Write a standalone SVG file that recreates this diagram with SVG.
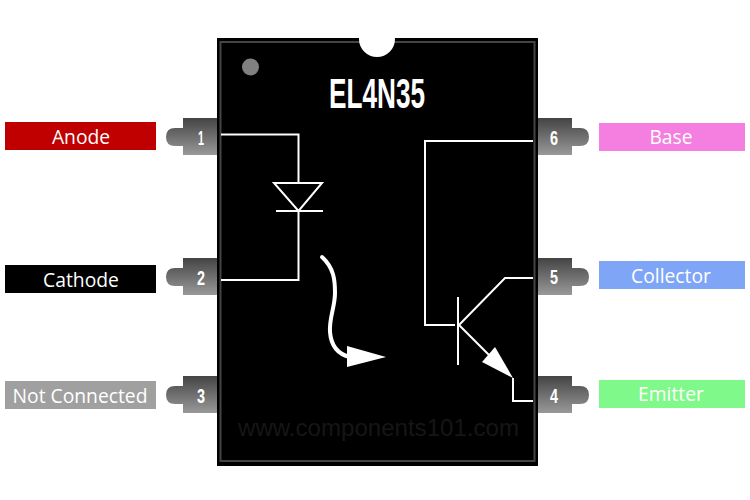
<svg xmlns="http://www.w3.org/2000/svg" width="750" height="500" viewBox="0 0 750 500">
<style>
.lbl{font-family:"Open Sans","Noto Sans",sans-serif;font-size:19.300px;fill:#fff;text-anchor:middle}
.num{font-family:"Liberation Sans",sans-serif;font-weight:700;font-size:20px;fill:#fff;text-anchor:middle}
.w{fill:none;stroke:#fff;stroke-width:2}
</style>
<defs>
<linearGradient id="pg" x1="0" y1="0" x2="0" y2="1"><stop offset="0" stop-color="#444"/><stop offset="1" stop-color="#999"/></linearGradient>
<path id="pl" d="M217 0V37H183V28H175Q166 28 166 19Q166 10 175 10H183V0Z"/>
<path id="pr" d="M538 0V37H572V28H580Q589 28 589 19Q589 10 580 10H572V0Z"/>
</defs>
<g id="pin1"><use href="#pl" y="118" fill="url(#pg)"/><text class="num" x="201" y="145" textLength="6" lengthAdjust="spacingAndGlyphs">1</text></g>
<g id="pin2"><use href="#pl" y="258" fill="url(#pg)"/><text class="num" x="201" y="285" textLength="8" lengthAdjust="spacingAndGlyphs">2</text></g>
<g id="pin3"><use href="#pl" y="376" fill="url(#pg)"/><text class="num" x="201" y="403" textLength="8" lengthAdjust="spacingAndGlyphs">3</text></g>
<g id="pin6"><use href="#pr" y="118" fill="url(#pg)"/><text class="num" x="554" y="145" textLength="8" lengthAdjust="spacingAndGlyphs">6</text></g>
<g id="pin5"><use href="#pr" y="258" fill="url(#pg)"/><text class="num" x="554" y="284" textLength="8" lengthAdjust="spacingAndGlyphs">5</text></g>
<g id="pin4"><use href="#pr" y="376" fill="url(#pg)"/><text class="num" x="554" y="403" textLength="8" lengthAdjust="spacingAndGlyphs">4</text></g>
<g id="chip">
<rect x="217" y="38" width="321" height="428" fill="#000"/>
<rect x="220.500" y="42" width="314" height="419" fill="none" stroke="#444" stroke-width="2"/>
<circle cx="377" cy="39" r="18" fill="#fff"/>
<rect x="355" y="30" width="44" height="8" fill="#fff"/>
<circle cx="250.500" cy="67" r="8.500" fill="#808080"/>
<text x="377" y="108" font-family="Liberation Sans, sans-serif" font-weight="700" font-size="43" fill="#fff" text-anchor="middle" textLength="96" lengthAdjust="spacingAndGlyphs">EL4N35</text>
<text x="378.500" y="436" font-family="Liberation Sans, sans-serif" font-size="23.500" fill="#161616" text-anchor="middle" textLength="281" lengthAdjust="spacingAndGlyphs">www.components101.com</text>
</g>
<g id="connectors">
<path class="w" d="M221 134.500H298.500V183M274 183H322L298.500 211L274 183ZM276 211H323M298.500 211V280H221"/>
<path d="M322 257C334 268 335 280 335 293C335 307 329 318 330 332C331 345 337 354 350 357" fill="none" stroke="#fff" stroke-width="4" stroke-linecap="round"/>
<polygon points="347,346 386,357 347,367" fill="#fff"/>
<path class="w" d="M533 141H425V325H455M458 297V365M459 325L505 278H533M459 325L492 358M513 378V401H533"/>
<polygon points="495,347 482,362 513,378" fill="#fff"/>
</g>
<g id="label-anode"><rect x="5" y="122" width="151" height="28" fill="#c00000"/><text class="lbl" x="81" y="144">Anode</text></g>
<g id="label-cathode"><rect x="5" y="265" width="151" height="28" fill="#000"/><text class="lbl" x="81" y="287">Cathode</text></g>
<g id="label-nc"><rect x="5" y="381" width="151" height="28" fill="#a0a0a0"/><text class="lbl" x="80" y="403">Not Connected</text></g>
<g id="label-base"><rect x="599" y="123" width="146" height="28" fill="#f47fe0"/><text class="lbl" x="671" y="144">Base</text></g>
<g id="label-collector"><rect x="599" y="261" width="146" height="28" fill="#7fa6f6"/><text class="lbl" x="671" y="283">Collector</text></g>
<g id="label-emitter"><rect x="599" y="380" width="146" height="28" fill="#7ff98a"/><text class="lbl" x="671" y="401">Emitter</text></g>
</svg>
